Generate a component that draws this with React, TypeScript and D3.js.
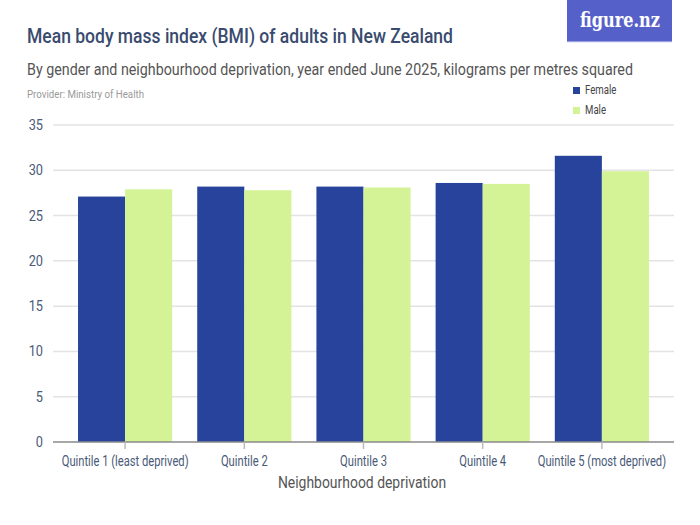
import React from "react";
import * as d3 from "d3";

const categories = [
  "Quintile 1 (least deprived)",
  "Quintile 2",
  "Quintile 3",
  "Quintile 4",
  "Quintile 5 (most deprived)",
];
const seriesNames = ["Female", "Male"];
const female = [27.1, 28.2, 28.2, 28.6, 31.6];
const male = [27.9, 27.8, 28.1, 28.5, 29.9];
const yTicks = [0, 5, 10, 15, 20, 25, 30, 35];
const colors = ["#27439b", "#d4f397"];

const W = 700;
const H = 525;
const left = 53;
const right = 674;
const top = 125;
const bottom = 442;

function CText({
  x,
  y,
  sx,
  children,
  ...rest
}: {
  x: number;
  y: number;
  sx: number;
  children: React.ReactNode;
  [k: string]: any;
}) {
  return (
    <text transform={`translate(${x},${y}) scale(${sx},1)`} x={0} y={0} {...rest}>
      {children}
    </text>
  );
}

export default function App() {
  const x = d3.scaleBand<string>().domain(categories).range([left, right]).padding(0.21);
  const xs = d3.scaleBand<string>().domain(seriesNames).range([0, x.bandwidth()]);
  const y = d3.scaleLinear().domain([0, 35]).range([bottom, top]);
  const values = [female, male];
  const font = "Roboto, 'Noto Sans', sans-serif";

  return (
    <svg
      width={W}
      height={H}
      viewBox={`0 0 ${W} ${H}`}
      style={{ position: "fixed", left: 0, top: 0, background: "#fff" }}
      fontFamily={font}
    >
      <rect x={0} y={0} width={W} height={H} fill="#fff" />
      {/* logo */}
      <rect x={567} y={0} width={105} height={42} fill="#5660c9" />
      <rect x={567} y={41} width={105} height={1.2} fill="#9aa0e0" />
      <text
        x={580}
        y={27}
        fill="#fff"
        fontFamily="'DejaVu Serif', 'Liberation Serif', serif"
        fontWeight="bold"
        fontSize={20}
        textLength={80}
        lengthAdjust="spacingAndGlyphs"
      >
        figure.nz
      </text>

      <text x={27} y={43} fill="#394b6e" fontSize={21} fontWeight={500} textLength={426} lengthAdjust="spacingAndGlyphs">
        Mean body mass index (BMI) of adults in New Zealand
      </text>
      <text x={27} y={75} fill="#555" fontSize={17} textLength={606} lengthAdjust="spacingAndGlyphs">
        By gender and neighbourhood deprivation, year ended June 2025, kilograms per metres squared
      </text>
      <text x={27} y={98} fill="#999" fontSize={11} textLength={117} lengthAdjust="spacingAndGlyphs">
        Provider: Ministry of Health
      </text>

      {/* legend */}
      {seriesNames.map((s, i) => (
        <g key={s} transform={`translate(573, ${87 + i * 20})`}>
          <rect x={0} y={0} width={7} height={7} fill={colors[i]} />
          <CText x={12} y={7} sx={0.8} fontSize={12} fill="#444">
            {s}
          </CText>
        </g>
      ))}

      {/* gridlines */}
      {yTicks.map((t) => (
        <g key={t}>
          {t > 0 && (
            <line x1={left} x2={right} y1={y(t)} y2={y(t)} stroke="#e3e3e3" strokeWidth={1.5} />
          )}
          <CText x={43} y={y(t) + 5} sx={0.85} textAnchor="end" fontSize={15} fill="#4a5a78">
            {t}
          </CText>
        </g>
      ))}

      {/* bars */}
      {categories.map((c, ci) => (
        <g key={c} transform={`translate(${x(c)}, 0)`}>
          {seriesNames.map((s, si) => (
            <rect
              key={s}
              x={xs(s)}
              y={y(values[si][ci])}
              width={xs.bandwidth()}
              height={y(0) - y(values[si][ci])}
              fill={colors[si]}
            />
          ))}
        </g>
      ))}

      {/* x axis */}
      <line x1={left} x2={right} y1={bottom} y2={bottom} stroke="#8a8a8a" strokeWidth={1.5} />
      {categories.map((c) => {
        const cx = (x(c) as number) + x.bandwidth() / 2;
        return (
          <g key={c}>
            <line x1={cx} x2={cx} y1={bottom} y2={bottom + 7} stroke="#bbb" strokeWidth={1.5} />
            <CText x={cx} y={bottom + 24} sx={0.8} textAnchor="middle" fontSize={14} fill="#4a5a78">
              {c}
            </CText>
          </g>
        );
      })}
      <CText x={362} y={488} sx={0.82} textAnchor="middle" fontSize={17} fill="#555">
        Neighbourhood deprivation
      </CText>
    </svg>
  );
}
